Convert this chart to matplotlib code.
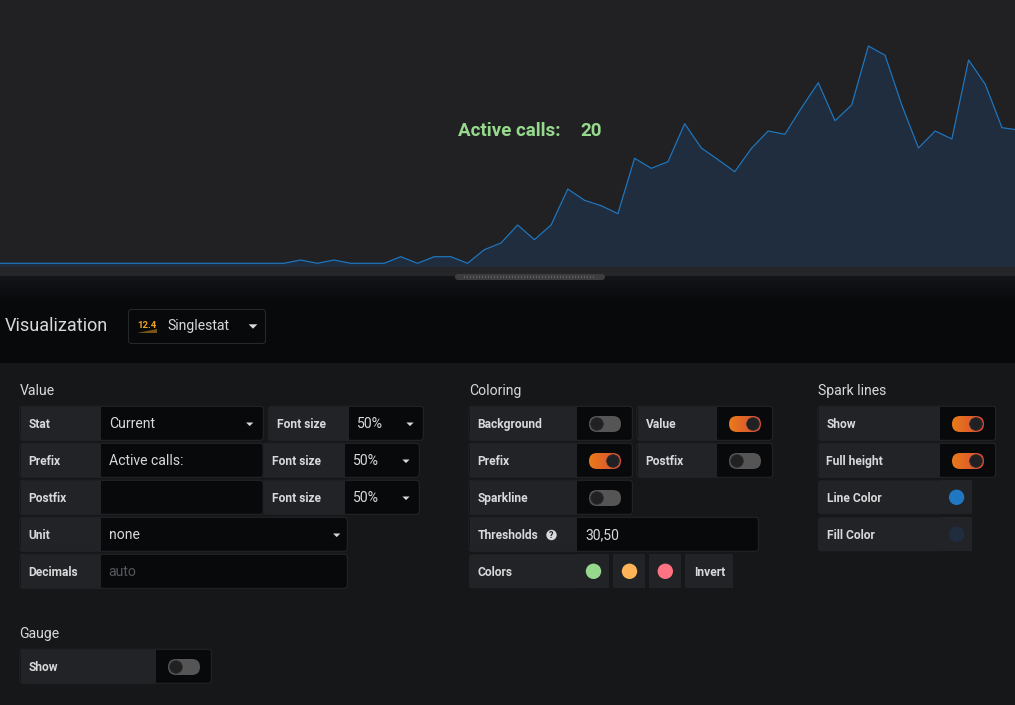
#!/usr/bin/env python3
"""Singlestat panel editor: sparkline preview above the options form."""
import numpy as np
import matplotlib
matplotlib.use("Agg")
import matplotlib.pyplot as plt
from matplotlib.colors import LinearSegmentedColormap
from matplotlib.patches import Circle, FancyBboxPatch, Polygon, Rectangle

plt.rcParams["font.family"] = ["Roboto", "DejaVu Sans"]

# sparkline, one sample per step
spark_values = [
    3.7, 3.7, 3.7, 3.7, 3.7, 3.7, 3.7, 3.7, 3.7, 3.7,
    3.7, 3.7, 3.7, 3.7, 3.7, 3.7, 3.7, 3.7, 7.0, 3.7,
    7.0, 3.7, 3.7, 3.7, 10.3, 3.7, 10.3, 10.3, 3.7, 17.3,
    24.0, 42.0, 27.3, 42.0, 78.0, 66.7, 61.3, 53.3, 108.7, 98.7,
    105.3, 143.3, 119.0, 107.3, 95.3, 118.7, 136.0, 132.7, 159.3, 184.3,
    146.3, 162.0, 221.0, 211.7, 162.0, 119.0, 136.0, 128.0, 207.0, 182.7,
    139.3, 137.0,
]
spark_steps = list(range(len(spark_values)))

stat_prefix = "Active calls:"
stat_value = "20"
thresholds = "30,50"
font_sizes = ["50%", "50%", "50%"]

BG = "#161719"
PANEL = "#212124"
LABEL = "#222327"
FIELD = "#08090b"
EDGE = "#222428"
TEXT = "#d8d9da"
GREEN = "#96d98d"
ORANGE = "#ffb357"
RED = "#ff7383"
LINE = "#1f78c1"
FILL = "#1f2d3f"

fig = plt.figure(figsize=(10.15, 7.05), dpi=100, facecolor=BG)

ui = fig.add_axes([0, 0, 1, 1], zorder=1)
ui.set_axis_off()


def box(x0, y0, x1, y1, color, edge="none", r=3, z=2):
    p = FancyBboxPatch((x0, y0), x1 - x0, y1 - y0,
                       boxstyle=f"round,pad=0,rounding_size={r}",
                       fc=color, ec=edge, lw=0.8, zorder=z)
    ui.add_patch(p)
    return p


def txt(x, y, s, size=12, color=TEXT, weight="normal", **kw):
    ui.text(x, y + 1, s, fontsize=size * 0.72, color=color, fontweight=weight,
            va="center", ha=kw.pop("ha", "left"), zorder=6, **kw)


def caret(x, y, w=3.6, h=3.6):
    ui.add_patch(Polygon([(x - w, y - h / 2), (x + w, y - h / 2), (x, y + h / 2)],
                         fc=TEXT, ec="none", zorder=6))


def field(x0, x1, x2, y0, label, value=None, dropdown=None, vcolor=TEXT):
    """Label cell plus dark value cell, one form row."""
    y1 = y0 + 34
    box(x0, y0, x2, y1, FIELD, EDGE)
    ui.add_patch(Rectangle((x0 + 1, y0 + 0.5), x1 - x0 - 1, 33, fc=LABEL, ec="none", zorder=3))
    txt(x0 + 8.5, y0 + 17.5, label, weight="bold", size=12)
    if value:
        txt(x1 + 8, y0 + 17, value, size=14, color=vcolor)
    if dropdown:
        caret(dropdown, y0 + 18)


def toggle(cx, cy, on):
    x0, y0 = cx - 16, cy - 8
    p = box(x0, y0, x0 + 32, y0 + 16, "#555555", r=8, z=4)
    if on:
        p.set_facecolor("none")
        grad = np.linspace(0, 1, 64).reshape(1, -1)
        im = ui.imshow(grad, extent=(x0, x0 + 32, y0 + 16, y0), aspect="auto", zorder=4,
                       cmap=LinearSegmentedColormap.from_list("o", ["#eb7b18", "#d44a3a"]))
        im.set_clip_path(p)
    kx = cx + 8 if on else cx - 8
    ui.add_patch(Circle((kx, cy), 6.3, fc="#212124", ec="#2c2c2f", lw=0.6, zorder=5))


def swatch(x0, x1, y0, cx, color):
    ui.add_patch(Rectangle((x0, y0), x1 - x0, 34, fc=LABEL, ec="none", zorder=2))
    ui.add_patch(Circle((cx, y0 + 17), 7.7, fc=color, ec="none", zorder=4))


# bands behind the form
ui.add_patch(Rectangle((0, 267), 1015, 9, fc="#262628", ec="none", zorder=0))
shade = np.linspace(0, 1, 32).reshape(-1, 1)
ui.imshow(shade, extent=(0, 1015, 304, 276), aspect="auto", zorder=0,
          cmap=LinearSegmentedColormap.from_list("s", ["#141518", "#08090b"]))
ui.add_patch(Rectangle((0, 304), 1015, 59, fc="#08090b", ec="none", zorder=0))

# resize grip
box(455, 274, 605, 280, "#3d3d40", r=3, z=2)
for gx in np.arange(464, 596, 3):
    ui.add_patch(Rectangle((gx, 276.3), 1.4, 1.4, fc="#606064", ec="none", zorder=3))

# visualization picker
txt(5, 325, "Visualization", size=18)
box(128.5, 309.5, 265.5, 343.5, FIELD, "#26272b")
ui.text(147, 325.5, "12.4", fontsize=6.8, color="#f2a41e", fontweight="bold",
        ha="center", va="center", zorder=6)
ui.add_patch(Polygon([(137, 333), (157, 333), (157, 329)], fc="#7a5414", ec="none", zorder=5))
txt(167, 325, "Singlestat", size=14)
caret(253, 326.5, w=4.4, h=4.4)

# Value group
txt(19.7, 390, "Value", size=14)
field(20, 100.7, 263.3, 406.3, "Stat", "Current", dropdown=249.7)
field(268.3, 348.7, 423.3, 406.3, "Font size", font_sizes[0], dropdown=410)
field(20, 100.7, 263.3, 443.3, "Prefix", stat_prefix)
field(263.3, 344.7, 419.3, 443.3, "Font size", font_sizes[1], dropdown=406)
field(20, 100.7, 263.3, 480.3, "Postfix")
field(263.3, 344.7, 419.3, 480.3, "Font size", font_sizes[2], dropdown=406)
field(20, 100.7, 347.3, 517.3, "Unit", "none", dropdown=336.7)
field(20, 100.7, 347.3, 554.3, "Decimals", "auto", vcolor="#55575b")

# Gauge group
txt(19.3, 633, "Gauge", size=14)
field(20, 156, 211.3, 649.3, "Show")
toggle(184, 667, False)

# Coloring group
txt(468.7, 390, "Coloring", size=14)
field(469, 577, 632.4, 406.3, "Background")
toggle(605, 424, False)
field(637, 716.6, 772.6, 406.3, "Value")
toggle(745, 424, True)
field(469, 577, 632.4, 443.3, "Prefix")
toggle(605, 461, True)
field(637, 716.6, 772.6, 443.3, "Postfix")
toggle(745, 461, False)
field(469, 577, 632.4, 480.3, "Sparkline")
toggle(605, 498, False)
field(469, 577.5, 758.4, 517.3, "Thresholds", thresholds)
ui.add_patch(Circle((551.5, 535), 5.2, fc=TEXT, ec="none", zorder=6))
ui.text(551.5, 535.5, "?", fontsize=6.5, fontweight="bold", color=LABEL, ha="center", va="center", zorder=7)
box(469, 554.3, 578, 588.3, LABEL)
txt(477.5, 571.8, "Colors", weight="bold")
swatch(577.5, 609, 554.3, 593.5, GREEN)
swatch(613, 645, 554.3, 629.5, ORANGE)
swatch(649, 681, 554.3, 665.3, RED)
ui.add_patch(Rectangle((685, 554.3), 48, 34, fc=LABEL, ec="none", zorder=2))
txt(694, 571.8, "Invert", weight="bold")

# Spark lines group
txt(818, 390, "Spark lines", size=14)
field(818, 940, 995.6, 406.3, "Show")
toggle(968, 424, True)
field(818, 940, 995.6, 443.3, "Full height")
toggle(968, 461, True)
box(818, 480.3, 941, 514.3, LABEL)
txt(827, 497.8, "Line Color", weight="bold")
swatch(940.5, 972, 480.3, 956.6, LINE)
box(818, 517.3, 941, 551.3, LABEL)
txt(827, 534.8, "Fill Color", weight="bold")
swatch(940.5, 972, 517.3, 956.6, FILL)

ui.set_xlim(0, 1015)
ui.set_ylim(705, 0)

# sparkline preview, top of the page
ax = fig.add_axes([0, 1 - 267 / 705, 1, 267 / 705], zorder=2)
ax.add_patch(Rectangle((0, 0), 1, 1, transform=ax.transAxes, fc=PANEL, ec="none", zorder=0))
ax.fill_between(spark_steps, spark_values, 0, color=FILL, lw=0)
ax.plot(spark_steps, spark_values, color=LINE, lw=0.85)
ax.set_xlim(0, 60.78)
ax.set_ylim(0, 267)
ax.set_axis_off()
ax.text(458 / 1015, 136.5 / 267, stat_prefix, transform=ax.transAxes, color=GREEN, fontsize=13.5,
        fontweight="bold", ha="left", va="center")
ax.text(580 / 1015, 136.5 / 267, stat_value, transform=ax.transAxes, color=GREEN, fontsize=13.5,
        fontweight="bold", ha="left", va="center")

fig.savefig("out.png", dpi=100, facecolor=BG)
